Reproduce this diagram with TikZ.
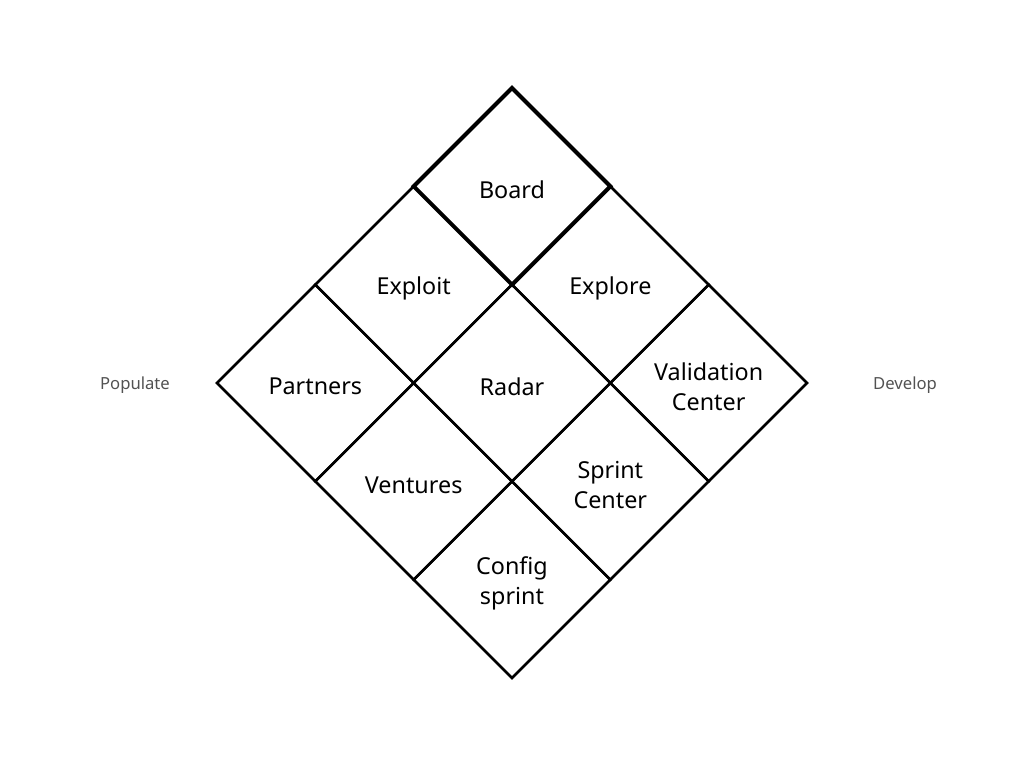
\documentclass[tikz,border=0pt]{standalone}
\usepackage{fontspec}
\setmainfont{Noto Sans}
\usetikzlibrary{shapes.geometric}
\begin{document}
\begin{tikzpicture}[x=0.75pt,y=-0.75pt,
  cell/.style={diamond,aspect=1,draw=black,line width=1.9pt,minimum width=147.5pt,minimum height=147.5pt,inner sep=0pt,outer sep=0pt},
  boardcell/.style={cell,line width=3pt},
  celltext/.style={align=center,font=\fontsize{17.5}{22.5}\selectfont,text=black,inner sep=0pt,yshift=-2.6pt},
  side/.style={font=\fontsize{12.5}{15}\selectfont,text=black!68}]
\useasboundingbox (0,0) rectangle (1024,768);
\def\h{98.33}
\node[cell] (explore) at ({512+1*\h},{186.33+1*\h}) {};
\node[cell] (validation) at ({512+2*\h},{186.33+2*\h}) {};
\node[cell] (exploit) at ({512-1*\h},{186.33+1*\h}) {};
\node[cell] (radar) at (512,{186.33+2*\h}) {};
\node[cell] (sprint) at ({512+1*\h},{186.33+3*\h}) {};
\node[cell] (partners) at ({512-2*\h},{186.33+2*\h}) {};
\node[cell] (ventures) at ({512-1*\h},{186.33+3*\h}) {};
\node[cell] (config) at (512,{186.33+4*\h}) {};
\node[boardcell] (board) at (512,186.33) {};
\node[celltext] (t-explore) at (explore.center) {Explore};
\node[celltext] (t-validation) at (validation.center) {Validation\\Center};
\node[celltext] (t-exploit) at (exploit.center) {Exploit};
\node[celltext] (t-radar) at (radar.center) {Radar};
\node[celltext] (t-sprint) at (sprint.center) {Sprint\\Center};
\node[celltext] (t-partners) at (partners.center) {Partners};
\node[celltext] (t-ventures) at (ventures.center) {Ventures};
\node[celltext] (t-config) at (config.center) {Config\\sprint};
\node[celltext] (t-board) at (board.center) {Board};
\node[side] (populate) at (135,385.5) {Populate};
\node[side] (develop) at (905,385.5) {Develop};
\end{tikzpicture}
\end{document}
